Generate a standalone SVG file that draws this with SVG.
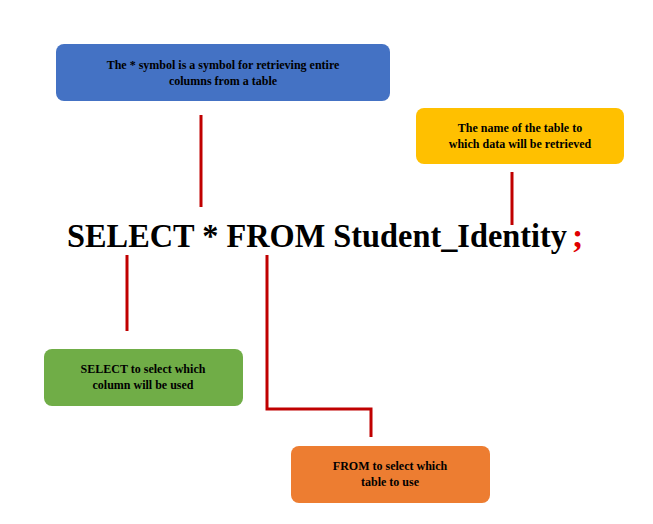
<svg xmlns="http://www.w3.org/2000/svg" width="653" height="524" viewBox="0 0 653 524">
<style>
.t{font-family:"Liberation Serif",serif;font-weight:bold;font-size:12px;fill:#000;text-anchor:middle}
.c{stroke:#c00000;stroke-width:3;fill:none}
.q{font-family:"Liberation Serif",serif;font-weight:bold;font-size:34px}
</style>
<rect width="653" height="524" fill="#fff"/>
<g id="connectors">
<line class="c" x1="201" y1="115" x2="201" y2="207"/>
<line class="c" x1="512" y1="172" x2="512" y2="225"/>
<line class="c" x1="127" y1="255" x2="127" y2="331"/>
<polyline class="c" points="267,255 267,409 371,409 371,437"/>
</g>
<g id="query"><text class="q" x="67" y="247" textLength="500" lengthAdjust="spacingAndGlyphs">SELECT * FROM Student_Identity</text>
<text class="q" x="572" y="247" fill="#e00000">;</text></g>
<g id="star"><rect x="56" y="44" width="334" height="57" rx="8" fill="#4472c4"/>
<text class="t" x="223" y="69">The * symbol is a symbol for retrieving entire</text>
<text class="t" x="223" y="85">columns from a table</text></g>
<g id="table"><rect x="416" y="108" width="208" height="56" rx="8" fill="#ffc000"/>
<text class="t" x="520" y="132">The name of the table to</text>
<text class="t" x="520" y="148">which data will be retrieved</text></g>
<g id="select"><rect x="44" y="349" width="199" height="57" rx="8" fill="#70ad47"/>
<text class="t" x="143" y="373">SELECT to select which</text>
<text class="t" x="143" y="389">column will be used</text></g>
<g id="from"><rect x="291" y="446" width="199" height="57" rx="8" fill="#ed7d31"/>
<text class="t" x="390" y="470">FROM to select which</text>
<text class="t" x="390" y="486">table to use</text></g>
</svg>
